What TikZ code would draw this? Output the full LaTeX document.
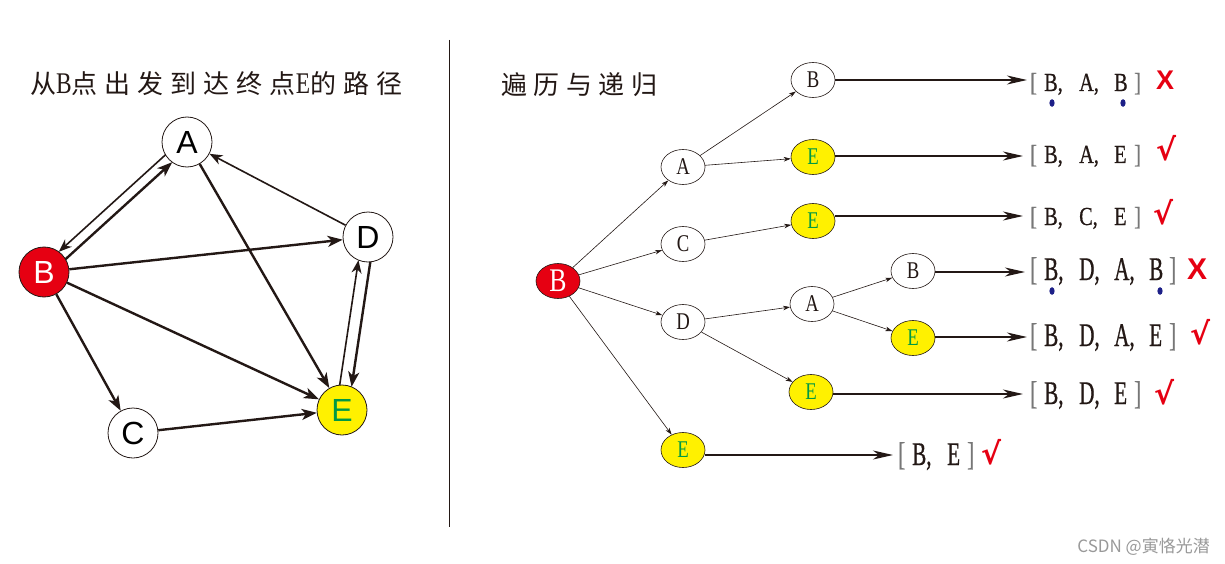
\documentclass[tikz,border=0pt]{standalone}
\usepackage{fontspec}
\usetikzlibrary{arrows.meta,shapes.geometric,calc}
\setmainfont{Liberation Serif}
\newfontfamily\cjk{Noto Sans CJK SC}
\newfontfamily\rsfa[FakeStretch=0.78,FakeBold=0.6]{Liberation Serif}
\newfontfamily\rsfb[FakeStretch=0.64,FakeBold=0.6]{Liberation Serif}
\newfontfamily\rsft[FakeStretch=0.78]{Liberation Serif}
\newfontfamily\lsans{Liberation Sans}
\newfontfamily\dvs{DejaVu Sans}
\definecolor{ink}{HTML}{231815}
\definecolor{pred}{HTML}{E60012}
\definecolor{pyel}{HTML}{FFF100}
\definecolor{pgreen}{HTML}{009944}
\definecolor{dotblue}{HTML}{1D2088}
\definecolor{brk}{HTML}{777777}
\newcommand\ritem[1]{\makebox[35pt][l]{#1,}}
\newcommand\rlast[1]{\makebox[20pt][l]{#1}}
\newcommand\rlb{\makebox[14pt][l]{\textcolor{brk}{[}}}
\newcommand\rrb{\textcolor{brk}{]}}
\newcommand\tg{\hspace{7pt}}
\begin{document}
\begin{tikzpicture}[x=1pt,y=-1pt,
  gnode/.style={circle,draw=ink,line width=0.8pt,minimum size=50pt,inner sep=0pt,fill=white,font=\lsans\fontsize{32}{32}\selectfont},
  gthick/.style={draw=ink,line width=2.4pt,-{Stealth[length=15pt,width=11pt,inset=4pt]}},
  gthin/.style={draw=ink,line width=1.6pt,-{Stealth[length=13pt,width=10pt,inset=4pt]}},
  tnode/.style={ellipse,draw=ink,line width=0.6pt,minimum width=44pt,minimum height=35pt,inner sep=0pt,fill=white,text=ink,font=\rsft\fontsize{24}{24}\selectfont},
  tyel/.style={tnode,fill=pyel,text=pgreen},
  tedge/.style={draw=ink,line width=0.6pt,-{Stealth[length=7pt,width=4.5pt,inset=2pt]}},
  redge/.style={draw=ink,line width=1.5pt,-{Stealth[length=20pt,width=9pt,inset=6pt]}},
  resa/.style={anchor=base west,inner sep=0pt,text=ink,font=\rsfa\fontsize{26}{26}\selectfont},
  resb/.style={anchor=base west,inner sep=0pt,text=ink,font=\rsfb\fontsize{33}{33}\selectfont},
  xmark/.style={anchor=base west,inner sep=0pt,text=pred,font=\lsans\bfseries\fontsize{27}{27}\selectfont},
  cmark/.style={anchor=base west,inner sep=0pt,text=pred,font=\dvs\bfseries\fontsize{30}{30}\selectfont},
  ttl/.style={anchor=west,inner sep=0pt,text=ink,font=\cjk\fontsize{26}{26}\selectfont}
]
\useasboundingbox (0,0) rectangle (1225,564);
\fill[white] (0,0) rectangle (1225,564);

% titles
\node[ttl] (t1) at (30,84) {从{\rsft\fontsize{30}{30}\selectfont B}点\tg 出\tg 发\tg 到\tg 达\tg 终\tg 点{\rsft\fontsize{30}{30}\selectfont E}的\tg 路\tg 径};
\node[ttl] (t2) at (501,85) {遍\hspace{6.5pt}历\hspace{6.5pt}与\hspace{6.5pt}递\hspace{6.5pt}归};

% divider
\draw[line width=0.8pt,ink] (449,40) -- (449,527);

% left graph
\node[gnode] (gA) at (187,142) {A};
\node[gnode,fill=pred,text=white] (gB) at (44,272) {B};
\node[gnode] (gC) at (133,433) {C};
\node[gnode] (gD) at (368,237) {D};
\node[gnode,fill=pyel,text=pgreen] (gE) at (342,410) {E};

\draw[gthin,shorten <=24.5pt,shorten >=24.5pt] ($(gA.center)!5pt!-90:(gB.center)$) -- ($(gB.center)!5pt!90:(gA.center)$);
\draw[gthick,shorten <=24.5pt,shorten >=24.5pt] ($(gB.center)!5pt!-90:(gA.center)$) -- ($(gA.center)!5pt!90:(gB.center)$);
\draw[gthin] (gD) -- (gA);
\draw[gthick] (gB) -- (gD);
\draw[gthick] (gA) -- (gE);
\draw[gthick] (gB) -- (gE);
\draw[gthick] (gB) -- (gC);
\draw[gthick] (gC) -- (gE);
\draw[gthin,shorten <=24.3pt,shorten >=24.3pt] ($(gE.center)!6pt!90:(gD.center)$) -- ($(gD.center)!6pt!-90:(gE.center)$);
\draw[gthick,shorten <=24.3pt,shorten >=24.3pt] ($(gD.center)!6pt!90:(gE.center)$) -- ($(gE.center)!6pt!-90:(gD.center)$);

% tree
\node[tnode,fill=pred,text=white,font=\rsft\fontsize{33}{33}\selectfont] (tB) at (558,281) {B};
\node[tnode] (tA) at (683,167) {A};
\node[tnode] (tC) at (683,244) {C};
\node[tnode] (tD) at (683,322) {D};
\node[tyel] (tE) at (683,450) {E};
\node[tnode] (uB) at (813,80) {B};
\node[tyel] (uE1) at (813,157) {E};
\node[tyel] (uE2) at (813,221) {E};
\node[tnode] (uA) at (812,304) {A};
\node[tyel] (uE3) at (811,392) {E};
\node[tnode] (vB) at (913,271) {B};
\node[tyel] (vE) at (913,338) {E};

\draw[tedge] (tB) -- (tA);
\draw[tedge] (tB) -- (tC);
\draw[tedge] (tB) -- (tD);
\draw[tedge] (tB) -- (tE);
\draw[tedge] (tA) -- (uB);
\draw[tedge] (tA) -- (uE1);
\draw[tedge] (tC) -- (uE2);
\draw[tedge] (tD) -- (uA);
\draw[tedge] (tD) -- (uE3);
\draw[tedge] (uA) -- (vB);
\draw[tedge] (uA) -- (vE);

% result arrows
\coordinate (r1) at (1027,80);
\coordinate (r2) at (1023,156);
\coordinate (r3) at (1023,216);
\coordinate (r4) at (1025,272);
\coordinate (r5) at (1027,337);
\coordinate (r6) at (1023,394);
\coordinate (r7) at (893,455);
\draw[redge] (uB.east |- r1) -- (r1);
\draw[redge] (uE1.east |- r2) -- (r2);
\draw[redge] (uE2.east |- r3) -- (r3);
\draw[redge] (vB.east |- r4) -- (r4);
\draw[redge] (vE.east |- r5) -- (r5);
\draw[redge] (uE3.east |- r6) -- (r6);
\draw[redge] (tE.east |- r7) -- (r7);

% results
\node[resa] (p1) at (1030,91) {\rlb\ritem{B}\ritem{A}\rlast{B}\rrb};
\node[resa] (p2) at (1030,163) {\rlb\ritem{B}\ritem{A}\rlast{E}\rrb};
\node[resa] (p3) at (1030,225) {\rlb\ritem{B}\ritem{C}\rlast{E}\rrb};
\node[resb] (p4) at (1030,280) {\rlb\ritem{B}\ritem{D}\ritem{A}\rlast{B}\rrb};
\node[resb] (p5) at (1030,346) {\rlb\ritem{B}\ritem{D}\ritem{A}\rlast{E}\rrb};
\node[resb] (p6) at (1030,404) {\rlb\ritem{B}\ritem{D}\rlast{E}\rrb};
\node[resb] (p7) at (898,465) {\rlb\ritem{B}\rlast{E}\rrb};

\fill[dotblue] (1052,103) ellipse (2.6pt and 3.8pt);
\fill[dotblue] (1123,103) ellipse (2.6pt and 3.8pt);
\fill[dotblue] (1052,291) ellipse (2.6pt and 3.8pt);
\fill[dotblue] (1160,291) ellipse (2.6pt and 3.8pt);

\node[xmark] (m1) at (1156,90) {X};
\node[cmark] (m2) at (1156,161) {√};
\node[cmark] (m3) at (1153,224) {√};
\node[xmark,font=\lsans\bfseries\fontsize{30}{30}\selectfont] (m4) at (1187,279) {X};
\node[cmark] (m5) at (1190,344) {√};
\node[cmark] (m6) at (1154,404) {√};
\node[cmark] (m7) at (981,464) {√};

% watermark
\node[anchor=east,inner sep=0pt,text=black!40,font=\cjk\fontsize{17}{17}\selectfont] (wm) at (1210,547) {CSDN @寅恪光潜};
\end{tikzpicture}
\end{document}
